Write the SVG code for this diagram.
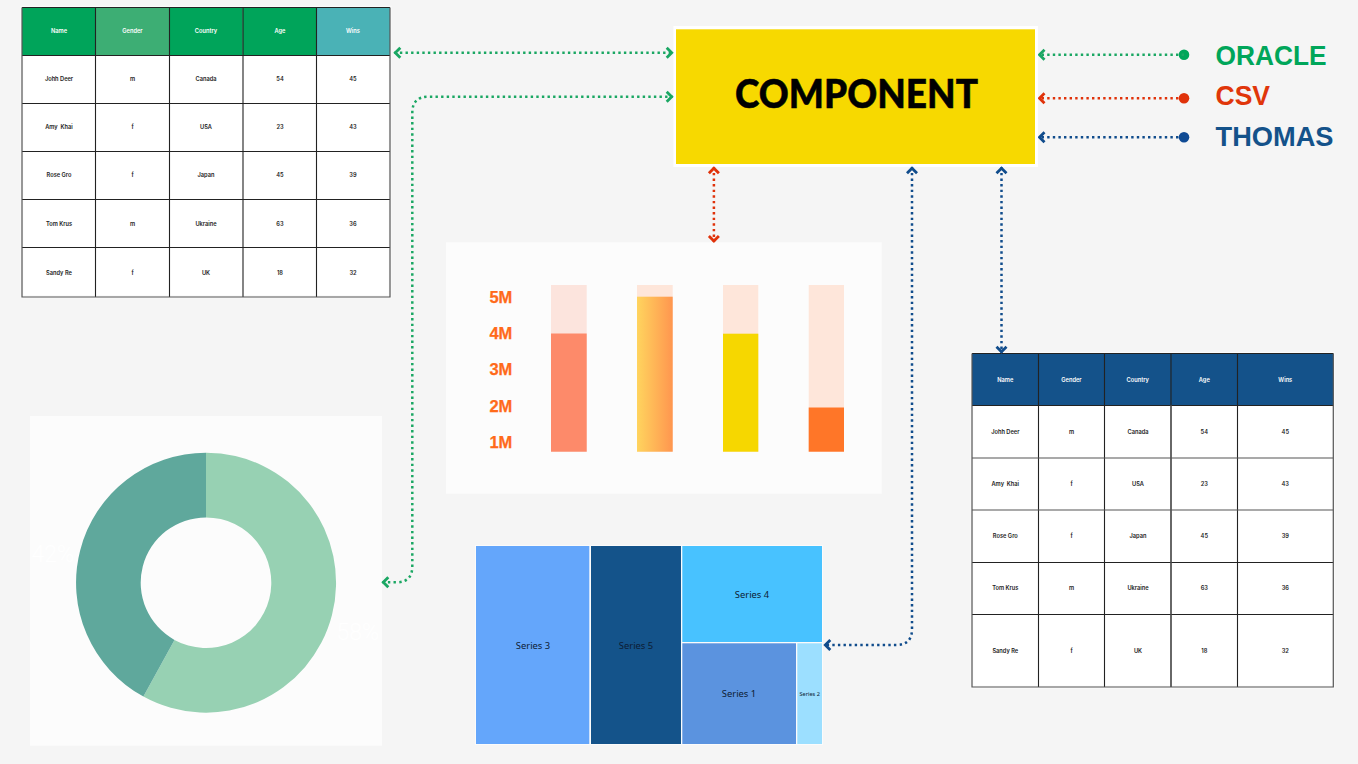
<svg xmlns="http://www.w3.org/2000/svg" width="1358" height="764" viewBox="0 0 1358 764">
<style>
.panel{fill:#fcfcfc}
.tbg{fill:#fff;stroke:#fbfbfb;stroke-width:3}
.grid{fill:none;stroke:#222;stroke-width:1.1}
.th{font:600 5.7px Inter,"Liberation Sans",sans-serif;fill:#fff;text-anchor:middle}
.td{font:600 5.7px Inter,"Liberation Sans",sans-serif;fill:#222;text-anchor:middle}
.flat{opacity:.999}
.conn{fill:none;stroke-width:2.5;stroke-dasharray:2.4 3.2}
.g{stroke:#1aa763}.r{stroke:#e0320a}.b{stroke:#104c8c}
.src{font:bold 27px "Liberation Sans",Arial,sans-serif}
.axis{font:bold 16.5px "Liberation Sans",Arial,sans-serif;fill:#ff6a1a;text-anchor:end;stroke:#ff6a1a;stroke-width:.25}
.tm{font:9.4px "Noto Sans","Liberation Sans",sans-serif;fill:#0d1c33;text-anchor:middle}
.pct{font:300 23px Roboto,"Liberation Sans",sans-serif;fill:#fff}
.tr{fill:#fce4dd}.tr2{fill:#fee6da}
</style>
<defs>
<marker id="ag" markerUnits="userSpaceOnUse" markerWidth="10" markerHeight="14" viewBox="0 0 10 14" refX="9" refY="7" orient="auto-start-reverse"><path d="M3 2 L8 7 L3 12" fill="none" stroke="#1aa763" stroke-width="2.8"/></marker>
<marker id="ar" markerUnits="userSpaceOnUse" markerWidth="10" markerHeight="14" viewBox="0 0 10 14" refX="9" refY="7" orient="auto-start-reverse"><path d="M3 2 L8 7 L3 12" fill="none" stroke="#e0320a" stroke-width="2.8"/></marker>
<marker id="ab" markerUnits="userSpaceOnUse" markerWidth="10" markerHeight="14" viewBox="0 0 10 14" refX="9" refY="7" orient="auto-start-reverse"><path d="M3 2 L8 7 L3 12" fill="none" stroke="#104c8c" stroke-width="2.8"/></marker>
<linearGradient id="barGrad" x1="0" y1="0" x2="1" y2="0"><stop offset="0" stop-color="#ffd45e"/><stop offset="1" stop-color="#ff964f"/></linearGradient>
</defs>
<rect width="1358" height="764" fill="#f5f5f5"/>

<g id="table-green" class="flat">
<rect class="tbg" x="22" y="7.3" width="368" height="289.4"/>
<rect x="22" y="7.3" width="73.3" height="48" fill="#00a45a"/>
<rect x="95.3" y="7.3" width="74" height="48" fill="#3dae74"/>
<rect x="169.3" y="7.3" width="73.4" height="48" fill="#00a45a"/>
<rect x="242.7" y="7.3" width="74" height="48" fill="#00a45a"/>
<rect x="316.7" y="7.3" width="73.3" height="48" fill="#4ab2b6"/>
<path class="grid" d="M22 7.5H390M95.5 7.5V297M169.5 7.5V297M243 7.5V297M316.5 7.5V297M22 55.5H390M22 103.5H390M22 151.5H390M22 199.5H390M22 247.5H390"/>
<path class="grid" d="M22 7.5V297H390V7.5" style="stroke:#555;stroke-width:1.2"/>
<text class="th" x="59" y="33">Name</text><text class="th" x="132.5" y="33">Gender</text><text class="th" x="206" y="33">Country</text><text class="th" x="280" y="33">Age</text><text class="th" x="353" y="33">Wins</text>
<text class="td" x="59" y="81">Johh Deer</text><text class="td" x="132.5" y="81">m</text><text class="td" x="206" y="81">Canada</text><text class="td" x="280" y="81">54</text><text class="td" x="353" y="81">45</text>
<text class="td" x="59" y="129" xml:space="preserve">Amy  Khai</text><text class="td" x="132.5" y="129">f</text><text class="td" x="206" y="129">USA</text><text class="td" x="280" y="129">23</text><text class="td" x="353" y="129">43</text>
<text class="td" x="59" y="177">Rose Gro</text><text class="td" x="132.5" y="177">f</text><text class="td" x="206" y="177">Japan</text><text class="td" x="280" y="177">45</text><text class="td" x="353" y="177">39</text>
<text class="td" x="59" y="225.5">Tom Krus</text><text class="td" x="132.5" y="225.5">m</text><text class="td" x="206" y="225.5">Ukraine</text><text class="td" x="280" y="225.5">63</text><text class="td" x="353" y="225.5">36</text>
<text class="td" x="59" y="274.5">Sandy Re</text><text class="td" x="132.5" y="274.5">f</text><text class="td" x="206" y="274.5">UK</text><text class="td" x="280" y="274.5">18</text><text class="td" x="353" y="274.5">32</text>
</g>

<g id="table-blue" class="flat">
<rect class="tbg" x="972" y="353.3" width="361.3" height="333.7"/>
<rect x="972" y="353.3" width="361.3" height="52" fill="#14528a"/>
<path class="grid" d="M972 353.5H1333.3M1038.5 353.5V687M1104.5 353.5V687M1237.5 353.5V687M1171 353.5V687M972 405.5H1333.3M972 562.5H1333.3M972 614.5H1333.3"/>
<path class="grid" d="M972 353.5V687H1333.3V353.5M972 458H1333.3M972 510H1333.3M1171 405V687" style="stroke:#555;stroke-width:1.2"/>
<text class="th" x="1005.3" y="382">Name</text><text class="th" x="1071.5" y="382">Gender</text><text class="th" x="1137.7" y="382">Country</text><text class="th" x="1204.3" y="382">Age</text><text class="th" x="1285.3" y="382">Wins</text>
<text class="td" x="1005.3" y="434">Johh Deer</text><text class="td" x="1071.5" y="434">m</text><text class="td" x="1138" y="434">Canada</text><text class="td" x="1204.3" y="434">54</text><text class="td" x="1285.3" y="434">45</text>
<text class="td" x="1005.3" y="486" xml:space="preserve">Amy  Khai</text><text class="td" x="1071.5" y="486">f</text><text class="td" x="1138" y="486">USA</text><text class="td" x="1204.3" y="486">23</text><text class="td" x="1285.3" y="486">43</text>
<text class="td" x="1005.3" y="538.3">Rose Gro</text><text class="td" x="1071.5" y="538.3">f</text><text class="td" x="1138" y="538.3">Japan</text><text class="td" x="1204.3" y="538.3">45</text><text class="td" x="1285.3" y="538.3">39</text>
<text class="td" x="1005.3" y="590.3">Tom Krus</text><text class="td" x="1071.5" y="590.3">m</text><text class="td" x="1138" y="590.3">Ukraine</text><text class="td" x="1204.3" y="590.3">63</text><text class="td" x="1285.3" y="590.3">36</text>
<text class="td" x="1005.3" y="652.7">Sandy Re</text><text class="td" x="1071.5" y="652.7">f</text><text class="td" x="1138" y="652.7">UK</text><text class="td" x="1204.3" y="652.7">18</text><text class="td" x="1285.3" y="652.7">32</text>
</g>

<g id="component" class="flat">
<rect x="673.4" y="26" width="364.6" height="141" fill="#fff"/>
<rect x="676" y="29.3" width="359" height="134.7" fill="#f7d900"/>
<text x="856.5" y="107.5" text-anchor="middle" textLength="243" lengthAdjust="spacingAndGlyphs" style="font:900 39px Lato,'Liberation Sans',sans-serif;fill:#000;stroke:#000;stroke-width:.5">COMPONENT</text>
</g>

<g id="source-oracle" class="flat"><circle cx="1184" cy="54.7" r="5.3" fill="#00a65a"/><text class="src" x="1215.5" y="64.7" fill="#00a65a" textLength="111" lengthAdjust="spacingAndGlyphs">ORACLE</text></g>
<g id="source-csv" class="flat"><circle cx="1184" cy="98.3" r="5.3" fill="#e0320a"/><text class="src" x="1215.5" y="105" fill="#e0360a" textLength="54.5" lengthAdjust="spacingAndGlyphs">CSV</text></g>
<g id="source-thomas" class="flat"><circle cx="1184" cy="137.3" r="5.3" fill="#0f4a94"/><text class="src" x="1215.5" y="145.8" fill="#14528a" textLength="118" lengthAdjust="spacingAndGlyphs">THOMAS</text></g>

<g id="bar-chart" class="flat">
<rect class="panel" x="446" y="242.3" width="435.7" height="251.4"/>
<text class="axis" x="512.3" y="302.6">5M</text><text class="axis" x="512.3" y="339">4M</text><text class="axis" x="512.3" y="375.2">3M</text><text class="axis" x="512.3" y="411.6">2M</text><text class="axis" x="512.3" y="448">1M</text>
<rect class="tr" x="551" y="285" width="35.7" height="166.7"/><rect x="551" y="333.5" width="35.7" height="118.2" fill="#fd8a6a"/>
<rect class="tr2" x="637" y="285" width="35.7" height="166.7"/><rect x="637" y="296.7" width="35.7" height="155" fill="url(#barGrad)"/>
<rect class="tr2" x="723" y="285" width="35.3" height="166.7"/><rect x="723" y="333.7" width="35.3" height="118" fill="#f6d700"/>
<rect class="tr2" x="808.7" y="285" width="35.3" height="166.7"/><rect x="808.7" y="407.5" width="35.3" height="44.2" fill="#ff7628"/>
</g>

<g id="donut-chart" class="flat">
<rect class="panel" x="30" y="416" width="352" height="329.7"/>
<path fill="#97d1b3" d="M206 452.7A130 130 0 1 1 143.4 696.6L174.5 639.9A65.3 65.3 0 1 0 206 517.4Z"/>
<path fill="#5fa89c" d="M206 452.7A130 130 0 0 0 143.4 696.6L174.5 639.9A65.3 65.3 0 0 1 206 517.4Z"/>
<text class="pct" x="31.5" y="562">42%</text>
<text class="pct" x="336.5" y="640">58%</text>
</g>

<g id="treemap" class="flat">
<rect x="475" y="545" width="348" height="200" fill="#fff" opacity="0.6"/>
<rect x="476" y="546" width="113.3" height="198" fill="#64a6fb"/><text class="tm" x="533" y="648.5">Series 3</text>
<rect x="591" y="546" width="90" height="198" fill="#14538a"/><text class="tm" x="636" y="648.5">Series 5</text>
<rect x="682.3" y="546" width="139.7" height="96" fill="#48c2ff"/><text class="tm" x="752" y="597.5">Series 4</text>
<rect x="682.3" y="643.3" width="113.7" height="100.7" fill="#5b93df"/><text class="tm" x="739" y="697">Series 1</text>
<rect x="797.3" y="643.3" width="24.7" height="100.7" fill="#9cdfff"/><text class="tm" x="809.7" y="696" style="font-size:5.6px">Series 2</text>
</g>

<g id="connectors">
<path class="conn g" marker-start="url(#ag)" marker-end="url(#ag)" d="M394.3 52.7H672.7"/>
<path class="conn g" marker-start="url(#ag)" marker-end="url(#ag)" d="M382.3 582.3H396.3Q412.3 582.3 412.3 566.3V112.7Q412.3 96.7 428.3 96.7H672.7"/>
<path class="conn g" marker-end="url(#ag)" d="M1184 54.7H1038.5"/>
<path class="conn r" marker-end="url(#ar)" d="M1184 98.3H1038.5"/>
<path class="conn b" marker-end="url(#ab)" d="M1184 137.3H1038.5"/>
<path class="conn r" marker-start="url(#ar)" marker-end="url(#ar)" d="M713.9 167.3V242"/>
<path class="conn b" marker-start="url(#ab)" marker-end="url(#ab)" d="M912 167.3V629Q912 645 896 645H824.3"/>
<path class="conn b" marker-start="url(#ab)" marker-end="url(#ab)" d="M1001.5 167.3V352.7"/>
</g>
</svg>
